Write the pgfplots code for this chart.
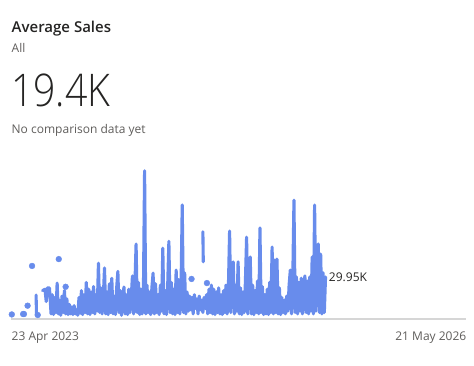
\documentclass[border=0pt]{standalone}
\usepackage{pgfplots}
\pgfplotsset{compat=1.18}
\usepackage{fontspec}
\setmainfont{Open Sans}
\newfontfamily\lightfont{Open Sans Light}
\newfontfamily\semifont{Open Sans Semibold}
\definecolor{sparkblue}{RGB}{104,140,236}
\definecolor{darktext}{RGB}{37,36,35}
\definecolor{greytext}{RGB}{96,94,92}
\definecolor{basegrey}{RGB}{214,214,214}
\begin{document}
\begin{tikzpicture}
\path[use as bounding box, fill=white] (0,0) rectangle (474pt,365pt);
\node[anchor=base west, inner sep=0, text=darktext, font=\fontsize{15}{18}\semifont] at (11.5pt,332.5pt) {Average Sales};
\node[anchor=base west, inner sep=0, text=greytext, font=\fontsize{12}{14}\selectfont] at (11.5pt,312.7pt) {All};
\node[anchor=base west, inner sep=0, xscale=0.87, text=darktext, font=\fontsize{45}{50}\lightfont] at (11pt,258.3pt) {19.4K};
\node[anchor=base west, inner sep=0, text=greytext, font=\fontsize{12}{14}\selectfont] at (11.5pt,231.7pt) {No comparison data yet};
\node[anchor=base west, inner sep=0, text=greytext, font=\fontsize{12}{14}\selectfont] at (11.5pt,25pt) {23 Apr 2023};
\node[anchor=base east, inner sep=0, text=greytext, font=\fontsize{12}{14}\selectfont] at (466.5pt,25pt) {21 May 2026};
\begin{axis}[at={(11pt,47pt)}, anchor=south west, scale only axis,
  width=455pt, height=150.7pt, xmin=0, xmax=1124, ymin=0, ymax=110,
  hide axis, clip=false]
\draw[basegrey, line width=1.8pt] (axis cs:0,-0.6) -- (axis cs:1124,-0.6);
% main series
\addplot[sparkblue, line width=3.1pt, line join=round, line cap=round, mark=none] coordinates {
(78,20)(84,21)(87,12)(90,22)(95,22)(99,3)(102,17)(105,2.5)(108,15)(111,4)(114,25.5)(117,3)(120,13)(123,2)(126,16)(129,4)(132,20)(135,3)(138,14)(141,2.5)(144,10)(147,3)(150,8)(153,2.5)(156,9)(159,3)(162,6)(165,2)(168,15)(171,3.5)(174,20)(177,2.5)(180,17)(183,4)(186,26)(189,3)(192,21)(195,2.5)(198,19)(201,4)(204,23)(207,3)(210,17)(213,5)(216,40)(219,4)(222,22)(225,3)(228,15)(231,36.5)(234,3)(237,19)(240,2.5)(243,25)(246,4)(249,29)(252,3)(255,16)(258,2.5)(261,22)(264,34)(267,4)(270,20)(273,2)(276,14)(279,22.6)(282,3)(285,17)(288,2.5)(291,21)(294,4)(297,15)(300,30.7)(303,3)(306,23)(309,54)(312,4)(315,26)(318,2.5)(321,21)(324,3)(327,16)(330,107.5)(333,3)(336,24)(339,4)(342,19)(345,2.5)(348,22)(351,32.8)(354,3)(357,25)(360,4)(363,17)(366,2.5)(369,24)(372,5)(375,51)(378,3)(381,20)(384,2.5)(387,23)(390,56)(393,4)(396,26)(399,3)(402,21)(405,2.5)(408,35)(411,4)(414,28)(417,3)(420,22)(423,82.5)(426,4)(429,33)(432,3)(435,19)(438,5)(441,16)(444,6)(447,15)(450,3)(453,17)(456,7)(459,14)(462,3)(465,16)(468,6)(471,13)(474,4)(477,15)(480,7)(483,17)(486,3)(489,21)(492,4)(495,24)(498,3)(501,21)(504,2.5)(507,19)(510,4)(513,22)(516,3)(519,17)(522,2.5)(525,20)(528,4)(531,24)(534,3)(537,22)(540,63.5)(543,4)(546,27)(549,41)(552,3)(555,24)(558,5)(561,41)(564,3)(567,22)(570,2.5)(573,19)(576,4)(579,26)(582,59)(585,3)(588,28)(591,44.5)(594,3)(597,24)(600,2.5)(603,20)(606,4)(609,27)(612,3)(615,65.7)(618,4)(621,23)(624,2.5)(627,17)(630,3)(633,21)(636,2.5)(639,26)(642,4)(645,51.8)(648,3)(651,42.3)(654,4)(657,43)(660,3)(663,22)(666,2.5)(669,15)(672,4)(675,13)(678,3)(681,16)(684,5)(687,24)(690,35)(693,3)(696,27)(699,86)(702,4)(705,30)(708,3)(711,26)(714,5)(717,29)(720,3)(723,24)(726,30.7)(729,4)(732,27)(735,3)(738,30)(741,5)(744,44.5)(747,3)(750,82.5)(753,5)(756,32)(759,54)(762,4)(765,46.7)(768,3)(771,33)(774,4)(777,29.95)
};
% short isolated segments
\addplot[sparkblue, line width=3.1pt, line cap=round, mark=none] coordinates {(62,16.8)(63,2.2)};
\addplot[sparkblue, line width=3.1pt, line cap=round, mark=none] coordinates {(474,63)(475,41)};
% isolated days
\addplot[only marks, mark=*, mark size=2.9pt, sparkblue, mark options={draw=sparkblue, fill=sparkblue}] coordinates {
(2,2.6)(30,2.9)(32,2.9)(41,9.0)(52,38)(66,2.2)(118,43)(135,22.8)(446,28.5)(484,25.5)
};
\node[anchor=west, inner sep=0, text=darktext, font=\fontsize{12}{14}\selectfont] at (axis cs:785,29.95) {29.95K};
\end{axis}
\end{tikzpicture}
\end{document}
